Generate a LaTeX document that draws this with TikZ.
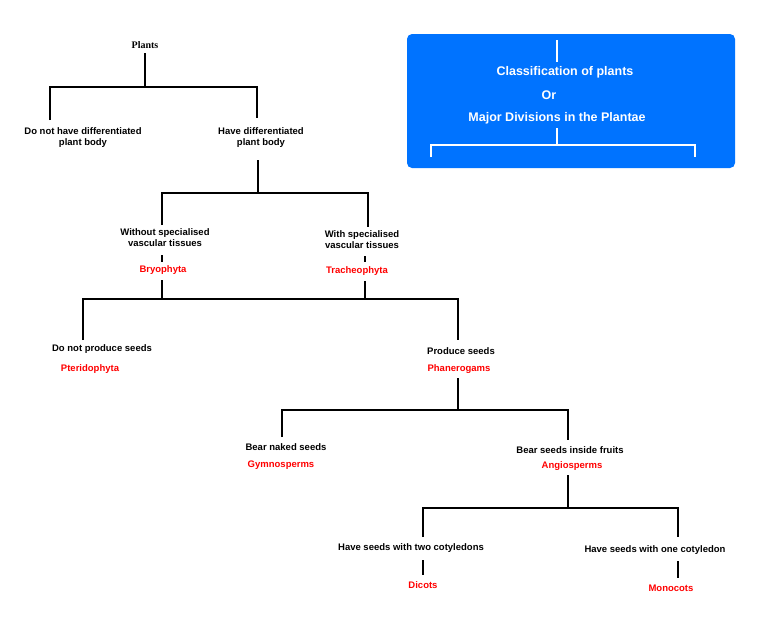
\documentclass[tikz,border=0pt]{standalone}
\usepackage{fontspec}
\setmainfont{Liberation Sans}
\begin{document}
\begin{tikzpicture}[x=1pt,y=-1pt,
  t/.style={font=\bfseries\fontsize{9.5}{11}\selectfont,align=center,inner sep=1pt},
  r/.style={t,text=red},
  ln/.style={line width=2.6pt},
  wl/.style={line width=2.6pt,white}]
\useasboundingbox (0,0) rectangle (770,630);
\definecolor{bx}{RGB}{0,115,255}
\fill[bx,rounded corners=5pt] (407,34) rectangle (735,168);
\node[font=\bfseries\fontsize{12.5}{14}\selectfont,text=white] (c1) at (565,72) {Classification of plants};
\node[font=\bfseries\fontsize{12.5}{14}\selectfont,text=white] (c2) at (549,95) {Or};
\node[font=\bfseries\fontsize{12.5}{14}\selectfont,text=white] (c3) at (557,118) {Major Divisions in the Plantae};
\draw[wl] (557,40) -- (557,62);
\draw[wl] (557,128) -- (557,145);
\draw[wl] (431,157) -- (431,145) -- (695,145) -- (695,157);

\node[font=\bfseries\fontsize{10}{12}\selectfont\rmfamily] (plants) at (145,45) {\fontspec{Liberation Serif}Plants};
\node[t] (a1) at (83,138) {Do not have differentiated\\plant body};
\node[t] (a2) at (261,138) {Have differentiated\\plant body};
\node[t] (b1) at (165,238) {Without specialised\\vascular tissues};
\node[r] (b1r) at (163,270) {Bryophyta};
\node[t] (b2) at (362,240) {With specialised\\vascular tissues};
\node[r] (b2r) at (357,271) {Tracheophyta};
\node[t] (c1n) at (102,349) {Do not produce seeds};
\node[r] (c1r) at (90,369) {Pteridophyta};
\node[t] (c2n) at (461,351) {Produce seeds};
\node[r] (c2r) at (459,369) {Phanerogams};
\node[t] (d1) at (286,447) {Bear naked seeds};
\node[r] (d1r) at (281,465) {Gymnosperms};
\node[t] (d2) at (570,450) {Bear seeds inside fruits};
\node[r] (d2r) at (572,466) {Angiosperms};
\node[t] (e1) at (411,548) {Have seeds with two cotyledons};
\node[r] (e1r) at (423,585) {Dicots};
\node[t] (e2) at (655,550) {Have seeds with one cotyledon};
\node[r] (e2r) at (671,588) {Monocots};

\draw[ln] (145,53) -- (145,87);
\draw[ln] (50,120) -- (50,87) -- (257,87) -- (257,118);
\draw[ln] (258,160) -- (258,193);
\draw[ln] (162,225) -- (162,193) -- (368,193) -- (368,227);
\draw[ln] (162,255) -- (162,262);
\draw[ln] (162,280) -- (162,299);
\draw[ln] (365,256) -- (365,262);
\draw[ln] (365,281) -- (365,299);
\draw[ln] (83,340) -- (83,299) -- (458,299) -- (458,340);
\draw[ln] (458,378) -- (458,410);
\draw[ln] (282,437) -- (282,410) -- (568,410) -- (568,440);
\draw[ln] (568,475) -- (568,508);
\draw[ln] (423,537) -- (423,508) -- (678,508) -- (678,537);
\draw[ln] (423,560) -- (423,575);
\draw[ln] (678,561) -- (678,578);
\end{tikzpicture}
\end{document}
